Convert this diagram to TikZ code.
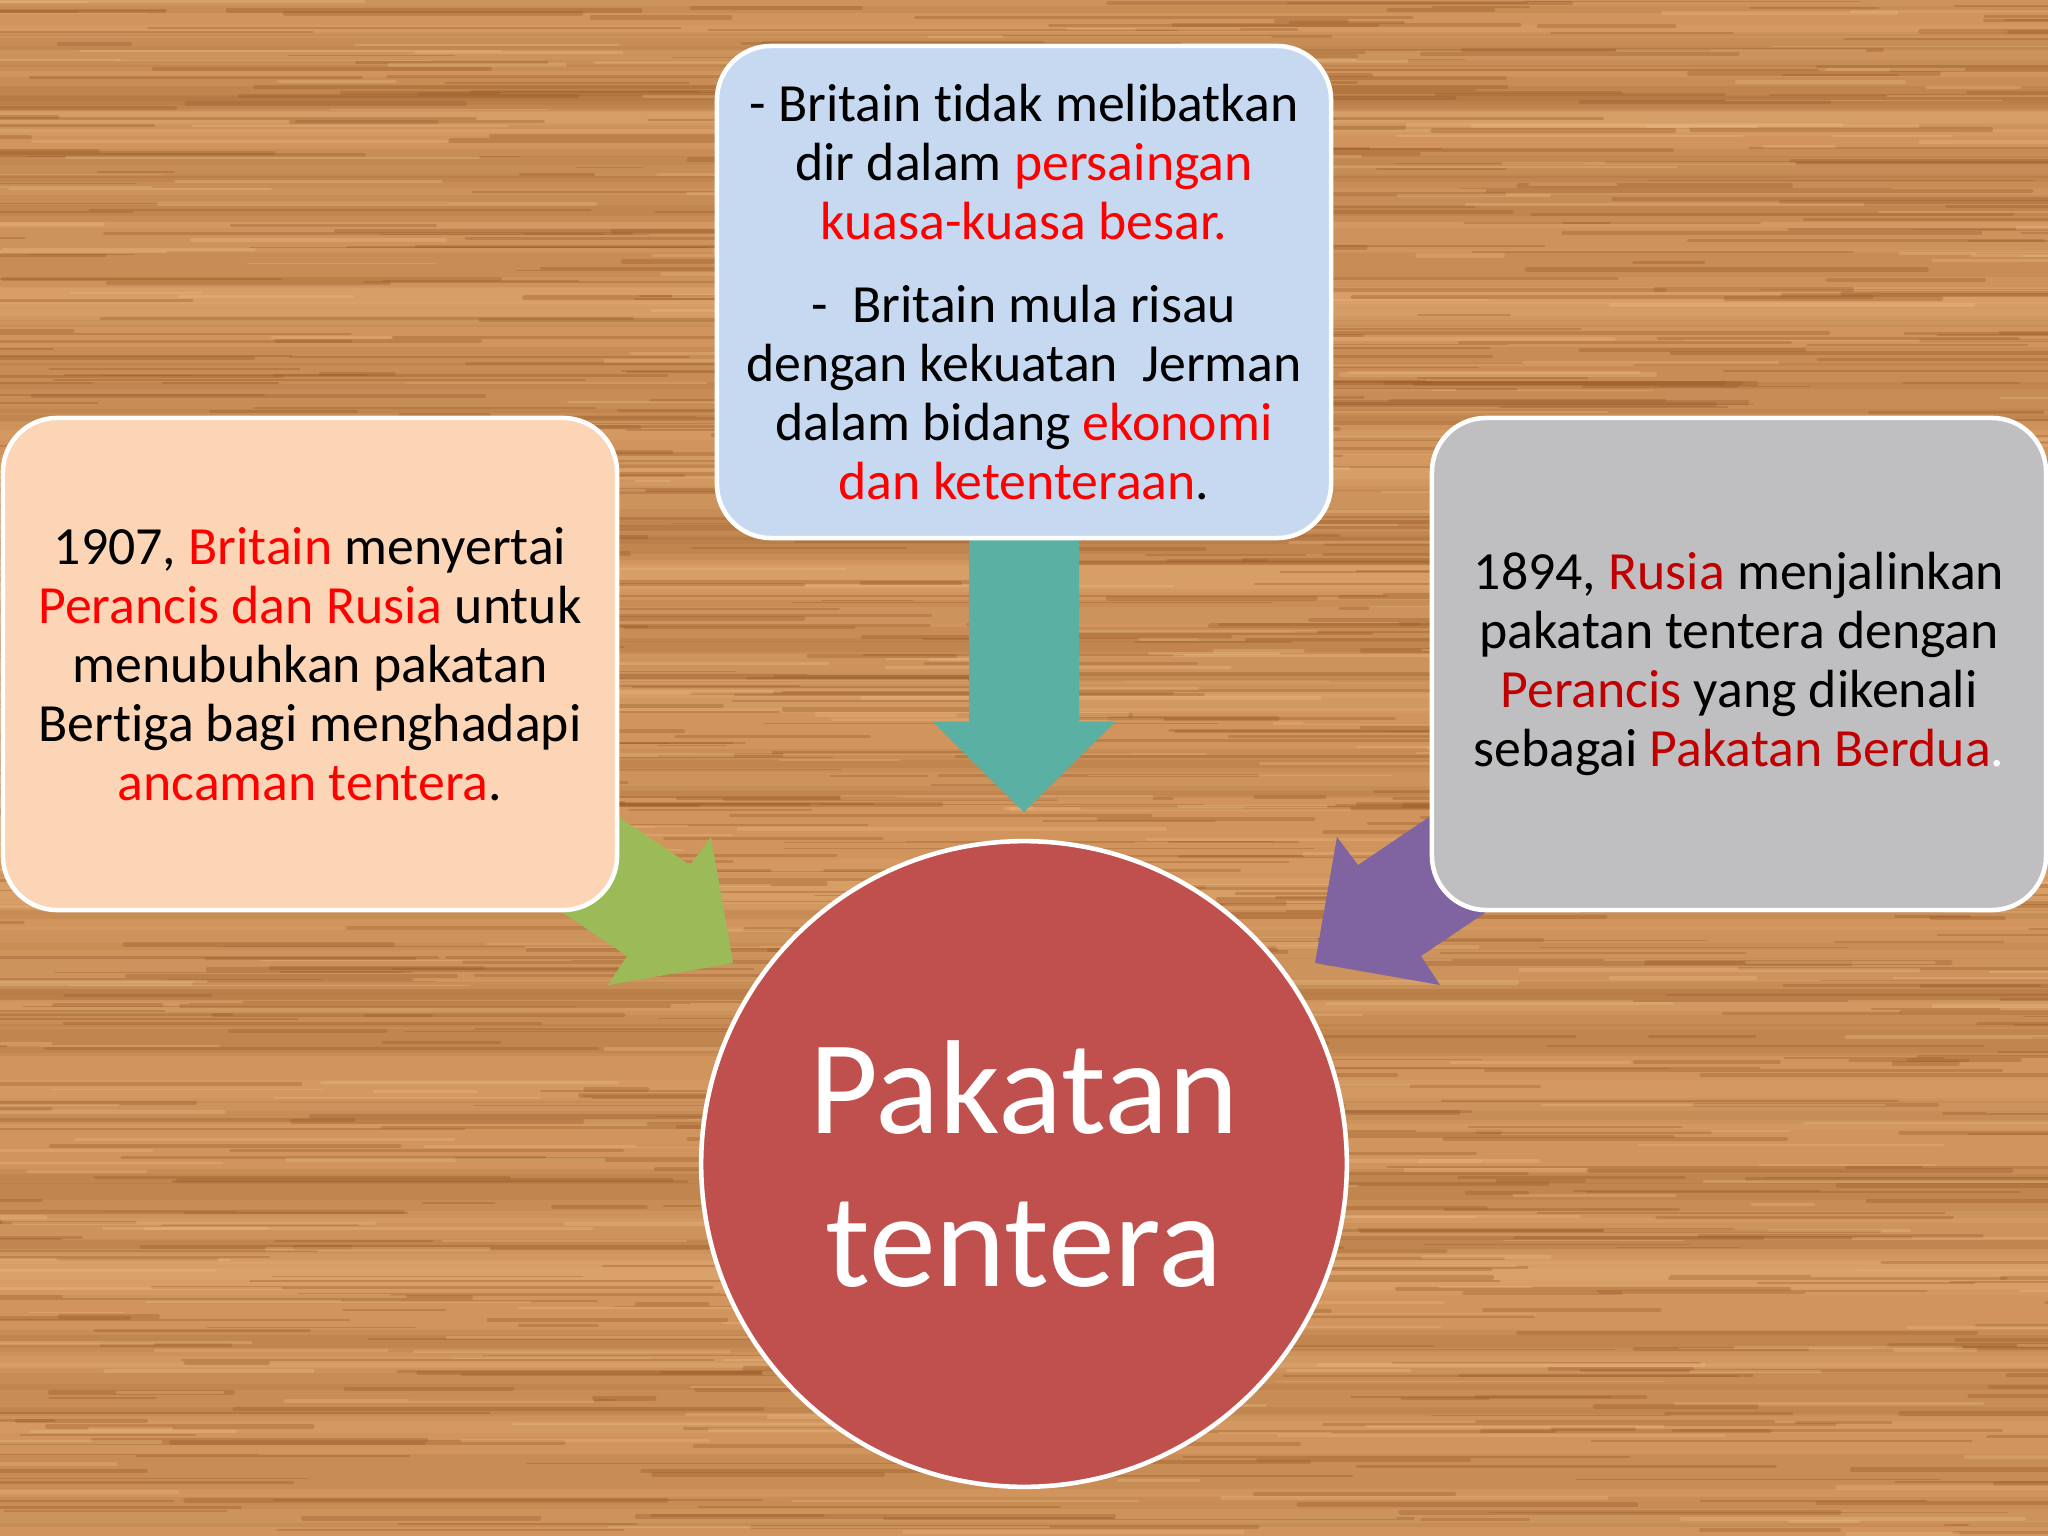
\documentclass[tikz,border=0pt]{standalone}
\usepackage{fontspec}
\setmainfont{Carlito}[Ligatures=NoCommon]
\usetikzlibrary{calc}
\definecolor{wood}{RGB}{208,148,92}
\definecolor{wooddark}{RGB}{150,88,38}
\definecolor{woodlight}{RGB}{236,188,132}
\definecolor{topblue}{RGB}{198,217,241}
\definecolor{leftpeach}{RGB}{251,213,181}
\definecolor{rightgray}{RGB}{191,191,194}
\definecolor{hubred}{RGB}{192,80,77}
\definecolor{tealarrow}{RGB}{91,176,164}
\definecolor{greenarrow}{RGB}{155,187,89}
\definecolor{purplearrow}{RGB}{128,100,162}
\definecolor{hotred}{RGB}{255,0,0}
\definecolor{darkred}{RGB}{192,0,0}
\newcommand{\hr}[1]{\textcolor{hotred}{#1}}
\newcommand{\dr}[1]{\textcolor{darkred}{#1}}
\tikzset{
  infobox/.style={draw=white, line width=1.6pt, rounded corners=19pt,
    minimum width=215.9pt, minimum height=173pt, align=center, inner sep=0pt,
    font=\fontsize{18.9}{20.7}\selectfont},
  hub/.style={circle, draw=white, line width=1.6pt, fill=hubred, minimum size=227pt,
    inner sep=0pt, align=center, text=white, font=\fontsize{47}{54}\selectfont},
  streak/.style={line cap=round}
}
\begin{document}
\begin{tikzpicture}[x=0.3515625pt,y=-0.3515625pt]
\useasboundingbox (0,0) rectangle (2048,1536);
% wood background
\begin{scope}
\clip (0,0) rectangle (2048,1536);
\fill[wood] (0,0) rectangle (2048,1536);
\pgfmathsetseed{7}
\foreach \i in {1,...,60}{
  \pgfmathsetmacro{\yy}{rnd*1536}
  \pgfmathsetmacro{\ww}{3+rnd*10}
  \draw[wooddark, opacity=0.12, line width=\ww pt] (-10,\yy) -- (2060,\yy);
}
\foreach \i in {1,...,50}{
  \pgfmathsetmacro{\yy}{rnd*1536}
  \pgfmathsetmacro{\ww}{3+rnd*8}
  \draw[woodlight, opacity=0.15, line width=\ww pt] (-10,\yy) -- (2060,\yy);
}
\foreach \i in {1,...,1000}{
  \pgfmathsetmacro{\yy}{rnd*1536}
  \pgfmathsetmacro{\xx}{-300+rnd*2348}
  \pgfmathsetmacro{\ll}{60+rnd*500}
  \pgfmathsetmacro{\ww}{0.4+rnd*1.3}
  \draw[streak, wooddark, opacity=0.33, line width=\ww pt] (\xx,\yy) -- ++(\ll,0);
}
\foreach \i in {1,...,400}{
  \pgfmathsetmacro{\yy}{rnd*1536}
  \pgfmathsetmacro{\xx}{-300+rnd*2348}
  \pgfmathsetmacro{\ll}{60+rnd*400}
  \pgfmathsetmacro{\ww}{0.4+rnd*1.1}
  \draw[streak, woodlight, opacity=0.35, line width=\ww pt] (\xx,\yy) -- ++(\ll,0);
}
\end{scope}

% nodes
\node[hub] (hub) at (1024,1164) {Pakatan\\tentera};

% block arrows (drawn beneath the boxes)
\fill[tealarrow] (969,520) -- (969,722) -- (933,722) -- (1024,812) -- (1115,722) -- (1079,722) -- (1079,520) -- cycle;
\fill[greenarrow] (524,753) -- (690,865) -- (711,837) -- (733,963) -- (608,985) -- (627,956) -- (461,844) -- cycle;
\fill[purplearrow] (1524,753) -- (1358,865) -- (1337,837) -- (1315,963) -- (1440,985) -- (1421,956) -- (1587,844) -- cycle;

\node[infobox, fill=topblue] (top) at (1024,292) {%
- Britain tidak melibatkan\\
dir dalam \hr{persaingan}\\
\hr{kuasa-kuasa besar.}\\[8.8pt]
-\ \ Britain mula risau\\
dengan kekuatan\ \ Jerman\\
dalam bidang \hr{ekonomi}\\
\hr{dan ketenteraan}.};

\node[infobox, fill=leftpeach] (left) at (310,664) {%
1907, \hr{Britain} menyertai\\
\hr{Perancis dan Rusia} untuk\\
menubuhkan pakatan\\
Bertiga bagi menghadapi\\
\hr{ancaman tentera}.};

\node[infobox, fill=rightgray] (right) at (1739,664) {%
1894, \dr{Rusia} menjalinkan\\
pakatan tentera dengan\\
\dr{Perancis} yang dikenali\\
sebagai \dr{Pakatan Berdua}\textcolor{white}{.}};
\end{tikzpicture}
\end{document}
